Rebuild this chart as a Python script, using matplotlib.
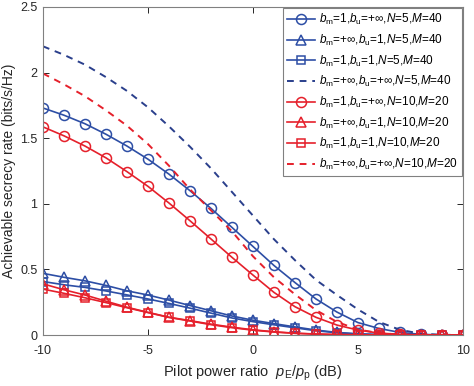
import matplotlib
matplotlib.use("Agg")
import matplotlib.pyplot as plt
import numpy as np

plt.rcParams['font.family'] = ['Liberation Sans', 'DejaVu Sans']
plt.rcParams['mathtext.fontset'] = 'custom'
plt.rcParams['mathtext.rm'] = 'Liberation Sans'
plt.rcParams['mathtext.it'] = 'Liberation Sans:italic'
plt.rcParams['mathtext.bf'] = 'Liberation Sans:bold'
plt.rcParams['axes.unicode_minus'] = False

x_db = list(range(-10, 11))

# N=5, M=40 (blue)
blue_circle = [1.73, 1.675, 1.61, 1.53, 1.44, 1.34, 1.226, 1.10, 0.965, 0.82, 0.675,
               0.53, 0.40, 0.275, 0.175, 0.095, 0.05, 0.02, 0.005, 0.001, 0.0]
blue_triangle = [0.47, 0.44, 0.413, 0.378, 0.337, 0.305, 0.266, 0.225, 0.185, 0.145, 0.113,
                 0.087, 0.062, 0.038, 0.02, 0.009, 0.004, 0.001, 0.0, 0.0, 0.0]
blue_square = [0.408, 0.383, 0.363, 0.336, 0.306, 0.275, 0.241, 0.205, 0.167, 0.13, 0.102,
               0.078, 0.055, 0.033, 0.017, 0.008, 0.003, 0.001, 0.0, 0.0, 0.0]
blue_dashed = [2.20, 2.135, 2.06, 1.965, 1.86, 1.735, 1.59, 1.435, 1.27, 1.09, 0.91,
               0.73, 0.57, 0.42, 0.305, 0.195, 0.10, 0.04, 0.01, 0.002, 0.0]

# N=10, M=20 (red)
red_circle = [1.586, 1.518, 1.44, 1.35, 1.245, 1.133, 1.006, 0.871, 0.732, 0.592, 0.457,
              0.325, 0.216, 0.135, 0.076, 0.038, 0.015, 0.005, 0.001, 0.0, 0.0]
red_triangle = [0.39, 0.345, 0.305, 0.258, 0.212, 0.173, 0.136, 0.11, 0.083, 0.06, 0.04,
                0.025, 0.014, 0.008, 0.004, 0.002, 0.001, 0.0, 0.0, 0.0, 0.0]
red_square = [0.35, 0.318, 0.284, 0.247, 0.208, 0.171, 0.134, 0.107, 0.079, 0.056, 0.037,
              0.023, 0.013, 0.007, 0.003, 0.0015, 0.0005, 0.0, 0.0, 0.0, 0.0]
red_dashed = [1.993, 1.91, 1.82, 1.712, 1.595, 1.455, 1.29, 1.11, 0.95, 0.79, 0.60,
              0.44, 0.31, 0.19, 0.10, 0.042, 0.015, 0.004, 0.001, 0.0, 0.0]

labels = [
    r'$b_{\rm m}$=1,$b_{\rm u}$=+$\infty$,$N$=5,$M$=40',
    r'$b_{\rm m}$=+$\infty$,$b_{\rm u}$=1,$N$=5,$M$=40',
    r'$b_{\rm m}$=1,$b_{\rm u}$=1,$N$=5,$M$=40',
    r'$b_{\rm m}$=+$\infty$,$b_{\rm u}$=+$\infty$,$N$=5,$M$=40',
    r'$b_{\rm m}$=1,$b_{\rm u}$=+$\infty$,$N$=10,$M$=20',
    r'$b_{\rm m}$=+$\infty$,$b_{\rm u}$=1,$N$=10,$M$=20',
    r'$b_{\rm m}$=1,$b_{\rm u}$=1,$N$=10,$M$=20',
    r'$b_{\rm m}$=+$\infty$,$b_{\rm u}$=+$\infty$,$N$=10,$M$=20',
]

blue = '#2D4EA5'
blue_d = '#2A3F8C'
red = '#E5202B'

fig = plt.figure(figsize=(4.74, 3.86), dpi=100)
ax = fig.add_axes([0.0907, 0.132, 0.886, 0.85])

lw = 1.2
ms = 7.2
mew = 1.1
series = [
    (blue_circle, blue, '-', 'o'),
    (blue_triangle, blue, '-', '^'),
    (blue_square, blue, '-', 's'),
    (blue_dashed, blue_d, '--', None),
    (red_circle, red, '-', 'o'),
    (red_triangle, red, '-', '^'),
    (red_square, red, '-', 's'),
    (red_dashed, red, '--', None),
]
for (vals, col, ls, mk), lab in zip(series, labels):
    kw = dict(color=col, linestyle=ls, linewidth=lw, label=lab)
    if mk is not None:
        kw.update(marker=mk, markersize=ms if mk != 's' else ms - 1.0,
                  markerfacecolor='none', markeredgecolor=col, markeredgewidth=mew)
    else:
        kw.update(dashes=(3.5, 3.0), linewidth=1.4)
    ax.plot(x_db, vals, **kw)

ax.set_xlim(-10, 10)
ax.set_ylim(0, 2.5)
ax.set_xticks([-10, -5, 0, 5, 10])
ax.set_yticks([0, 0.5, 1, 1.5, 2, 2.5])
ax.set_yticklabels(['0', '0.5', '1', '1.5', '2', '2.5'])
ax.tick_params(direction='in', top=True, right=True, labelsize=9,
               colors='#262626', length=4, width=0.7)
ax.tick_params(axis='x', pad=7)
ax.tick_params(axis='y', pad=4)
for s in ax.spines.values():
    s.set_color('#808080')
    s.set_linewidth(0.8)

ax.set_xlabel(r'Pilot power ratio  $p_{\rm E}/p_{\rm p}$ (dB)', fontsize=10.5, color='#262626', labelpad=5)
ax.set_ylabel('Achievable secrecy rate (bits/s/Hz)', fontsize=10, color='#262626', labelpad=3)

leg = ax.legend(loc='upper right', fontsize=8.5, frameon=True, fancybox=False,
                edgecolor='#808080', framealpha=1, borderaxespad=0.1,
                handlelength=2.4, handletextpad=0.3, labelspacing=0.47,
                borderpad=0.35)
leg.get_frame().set_linewidth(0.8)

fig.savefig('out.png', dpi=100)
